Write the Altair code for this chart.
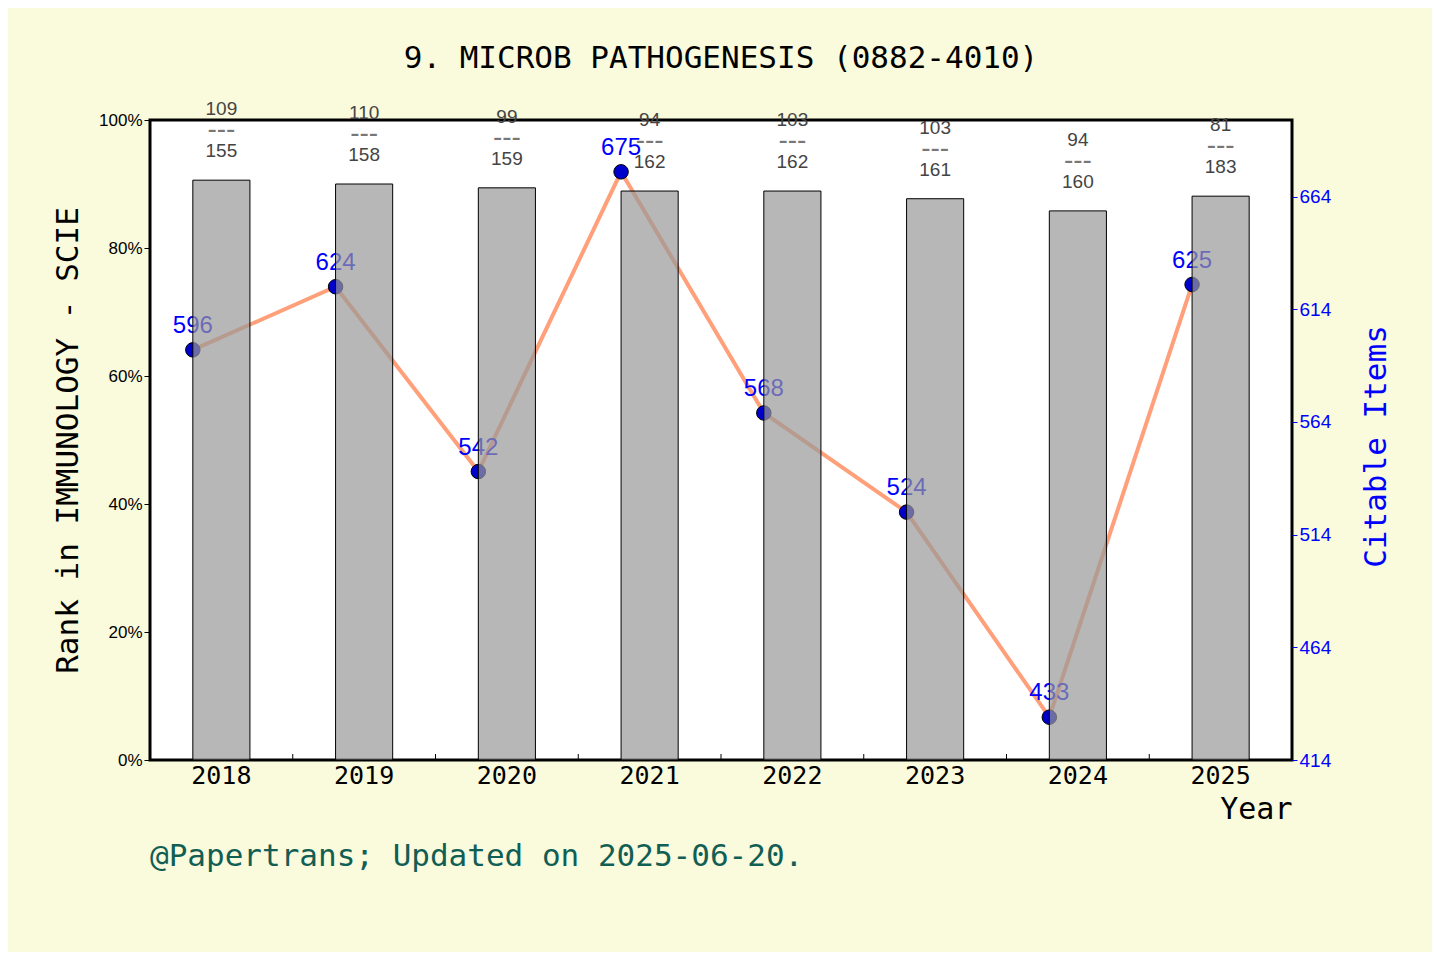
import altair as alt
import pandas as pd

# ---- data ----
years = ["2018", "2019", "2020", "2021", "2022", "2023", "2024", "2025"]
ranks = [109, 110, 99, 94, 103, 103, 94, 81]
totals = [155, 158, 159, 162, 162, 161, 160, 183]
bar_pct = [0.906, 0.900, 0.894, 0.889, 0.889, 0.877, 0.858, 0.881]
citable = [596, 624, 542, 675, 568, 524, 433, 625]
right_ticks = [414, 464, 514, 564, 614, 664]
left_ticks = [0, 0.2, 0.4, 0.6, 0.8, 1.0]

df = pd.DataFrame({
    "year": years,
    "rank": [str(r) for r in ranks],
    "total": [str(t) for t in totals],
    "pct": bar_pct,
    "citable": citable,
})

MONO = "DejaVu Sans Mono"
SANS = "Liberation Sans"
W, H = 1142, 640

xscale = alt.Scale(domain=years, paddingInner=0, paddingOuter=0)
xaxis = alt.Axis(
    title="Year", titleFont=MONO, titleFontSize=30, titleFontWeight="normal",
    titleAnchor="end", titleColor="black", titlePadding=6,
    labelFont=MONO, labelFontSize=25, labelColor="black", labelAngle=0,
    labelPadding=3, ticks=False, domain=False, grid=False,
)

def X(bp=None):
    if bp is None:
        return alt.X("year:N", scale=xscale, axis=xaxis, sort=years)
    return alt.X("year:N", scale=xscale, axis=xaxis, sort=years, bandPosition=bp)

# ---- right axis: citable items line ----
yc = alt.Y(
    "citable:Q",
    scale=alt.Scale(domain=[414, 698], nice=False, zero=False),
    axis=alt.Axis(
        orient="right", values=right_ticks, title="Citable Items",
        titleFont=MONO, titleFontSize=31, titleFontWeight="normal",
        titleColor="#0000FF", titleAngle=270, titleBaseline="middle",
        titleAlign="center", titleX=84, titleY=326,
        labelFont=SANS, labelFontSize=19, labelColor="#0000FF",
        tickColor="#0000FF", tickSize=5, domain=False, grid=False,
    ),
)

base_c = alt.Chart(df)
line = base_c.mark_line(color="#FFA07A", strokeWidth=4).encode(x=X(0.3), y=yc)
points = base_c.mark_point(
    filled=True, fill="#0000CD", stroke="black", strokeWidth=1, size=210, opacity=1
).encode(x=X(0.3), y=yc)
plabels = base_c.mark_text(
    font=SANS, fontSize=24, color="#0000FF", align="center",
    baseline="alphabetic", dy=-17,
).encode(x=X(0.3), y=yc, text="citable:Q")
line_layer = alt.layer(line, points, plabels)

# ---- left axis: rank percentile bars ----
yp = alt.Y(
    "pct:Q",
    scale=alt.Scale(domain=[0, 1], nice=False),
    axis=alt.Axis(
        orient="left", values=left_ticks, format=".0%", title="Rank in IMMUNOLOGY - SCIE",
        titleFont=MONO, titleFontSize=31, titleFontWeight="normal",
        titleColor="black", titlePadding=14,
        labelFont=SANS, labelFontSize=17, labelColor="black",
        tickColor="black", tickSize=6, domain=False, grid=False,
    ),
)

base_b = alt.Chart(df)
bars = base_b.mark_bar(
    width=alt.RelativeBandSize(0.4), color="#999999", fillOpacity=0.7,
    stroke="black", strokeWidth=1, strokeOpacity=1,
).encode(x=X(), y=yp)
rank_txt = base_b.mark_text(
    font=SANS, fontSize=19, color="#444444", baseline="alphabetic", dy=-65
).encode(x=X(), y=yp, text="rank:N")
dash_txt = base_b.mark_text(
    font=SANS, fontSize=28, color="#777777", baseline="alphabetic", dy=-42
).encode(x=X(), y=yp, text=alt.value("---"))
total_txt = base_b.mark_text(
    font=SANS, fontSize=19, color="#444444", baseline="alphabetic", dy=-23
).encode(x=X(), y=yp, text="total:N")
xticks = base_b.mark_rule(color="black", strokeWidth=1).encode(
    x=X(0), y=alt.value(H), y2=alt.value(H - 6)
)
footer = alt.Chart(pd.DataFrame({"t": ["@Papertrans; Updated on 2025-06-20."]})).mark_text(
    font=MONO, fontSize=31, color="#115E54", align="left", baseline="alphabetic"
).encode(x=alt.value(0), y=alt.value(746), text="t:N")

bar_layer = alt.layer(bars, xticks, rank_txt, dash_txt, total_txt, footer)

chart = (
    alt.layer(line_layer, bar_layer)
    .resolve_scale(y="independent")
    .properties(
        width=W, height=H,
        title=alt.TitleParams(
            "9. MICROB PATHOGENESIS (0882-4010)", font=MONO, fontSize=31,
            fontWeight="normal", color="black", anchor="middle", offset=-6,
            baseline="bottom", frame="group",
        ),
        autosize=alt.AutoSizeParams(type="none"),
        padding={"left": 142, "top": 112, "right": 140, "bottom": 192},
        background="#FAFADC",
    )
    .configure_view(stroke="black", strokeWidth=3, fill="white")
)

chart.save("out.html", embed_options={"renderer": "svg", "actions": False})
